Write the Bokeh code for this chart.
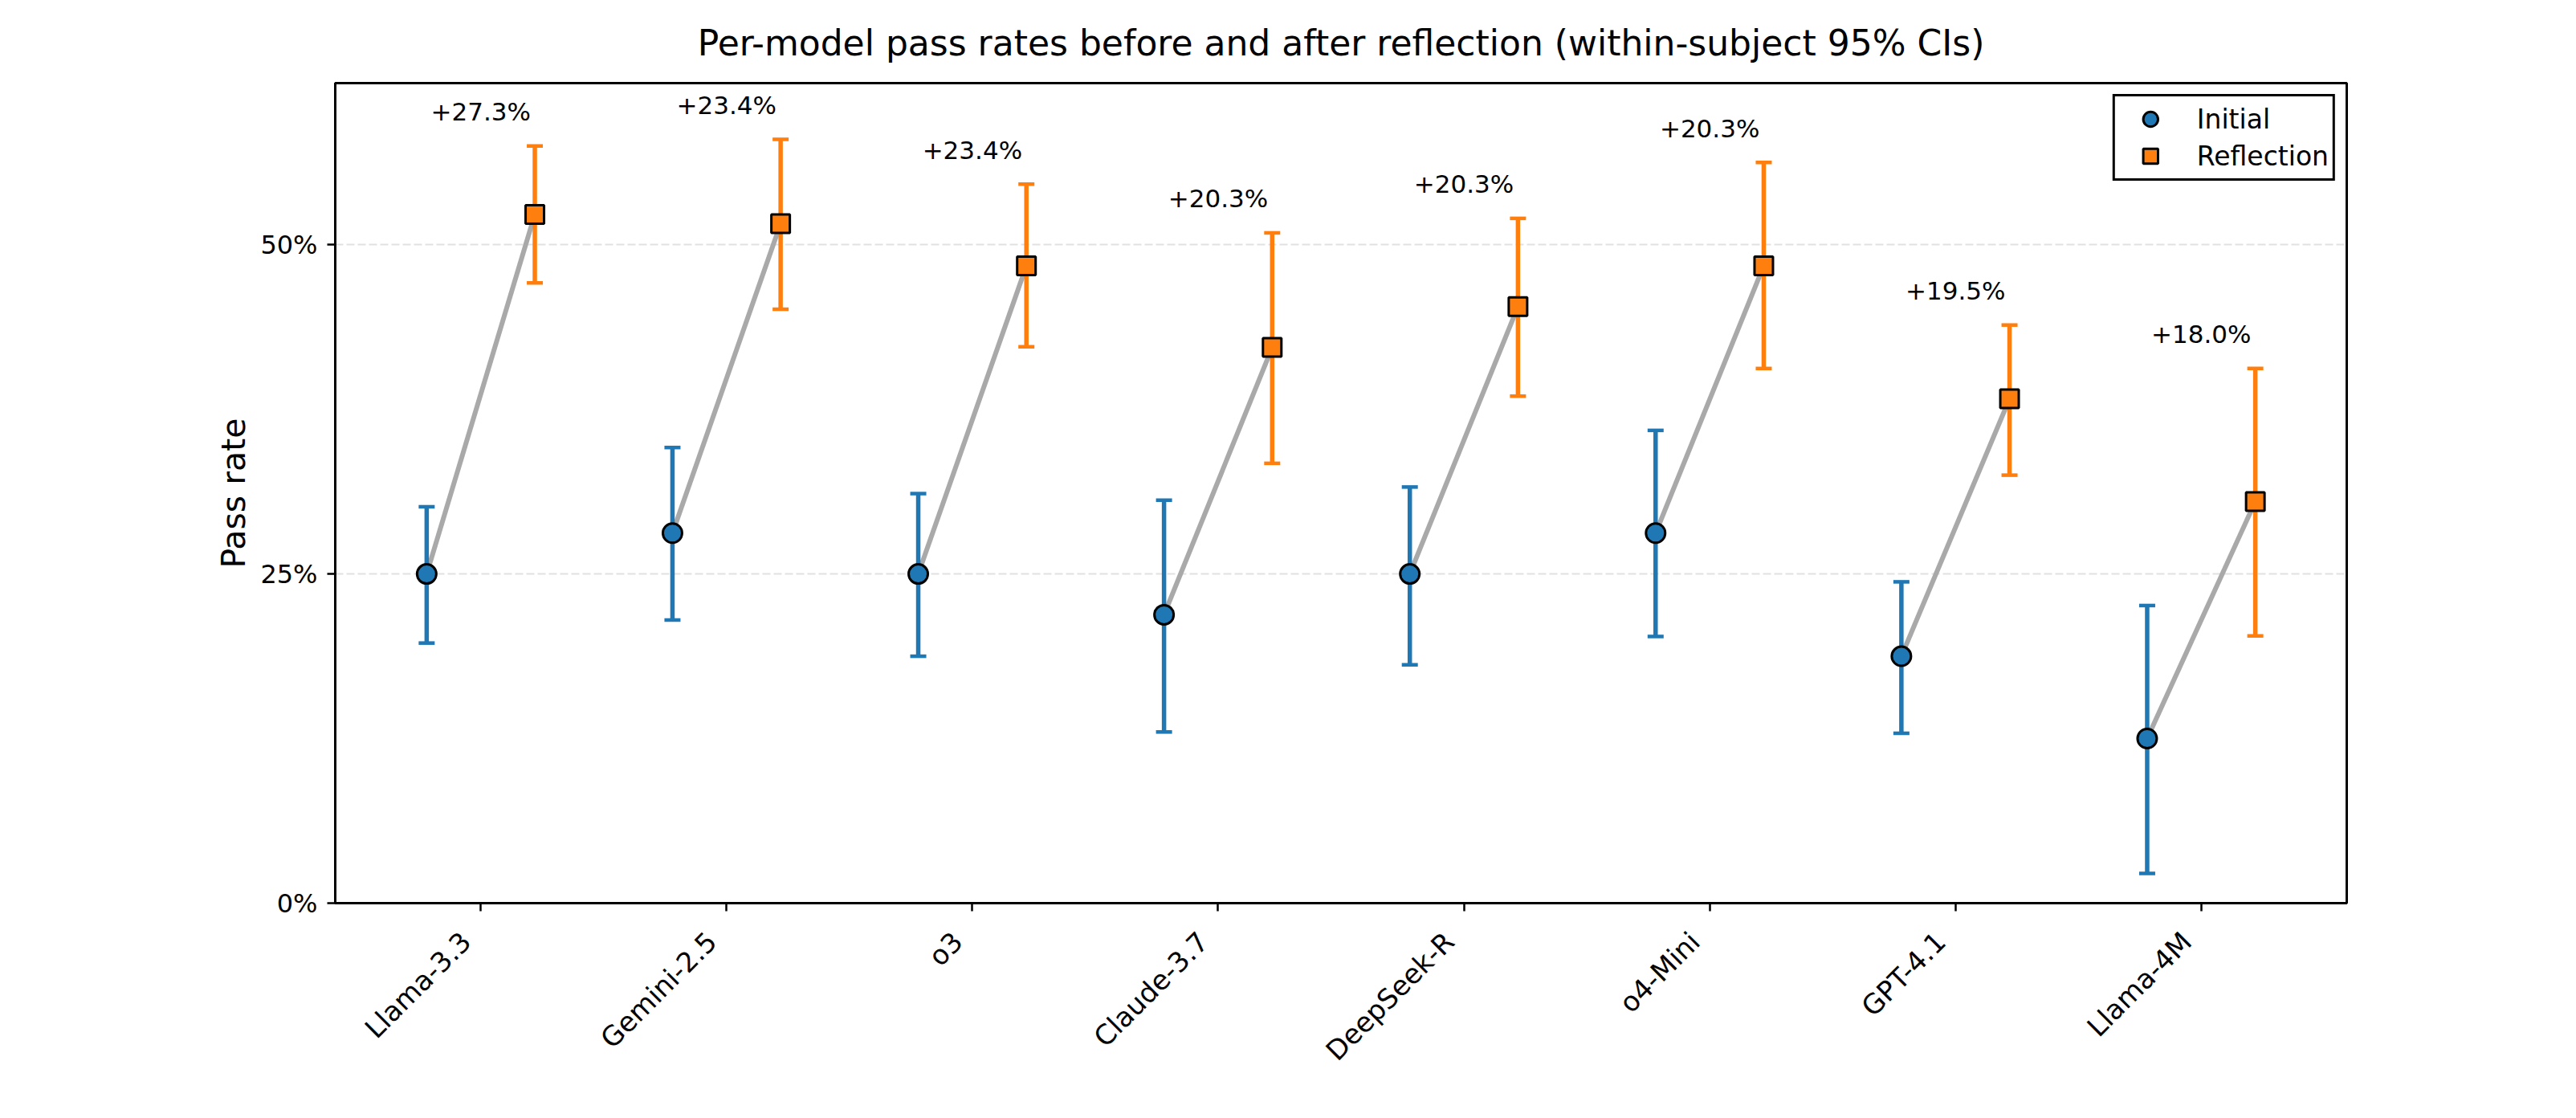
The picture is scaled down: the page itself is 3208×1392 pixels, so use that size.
import math
from bokeh.plotting import figure
from bokeh.models import (ColumnDataSource, Range1d, FixedTicker, NumeralTickFormatter,
                          Legend, LegendItem, LinearAxis)
from bokeh.embed import file_html
from bokeh.resources import INLINE
from bokeh.core.properties import value

# ---------------- data ----------------
models = ["Llama-3.3", "Gemini-2.5", "o3", "Claude-3.7", "DeepSeek-R", "o4-Mini", "GPT-4.1", "Llama-4M"]
initial = [0.250, 0.281, 0.250, 0.219, 0.250, 0.281, 0.1875, 0.125]
initial_lo = [0.1975, 0.215, 0.1875, 0.130, 0.181, 0.2025, 0.129, 0.0225]
initial_hi = [0.301, 0.346, 0.311, 0.306, 0.316, 0.359, 0.244, 0.226]
reflection = [0.523, 0.516, 0.484, 0.422, 0.453, 0.484, 0.383, 0.305]
reflection_lo = [0.471, 0.451, 0.4225, 0.334, 0.385, 0.406, 0.325, 0.203]
reflection_hi = [0.575, 0.580, 0.546, 0.509, 0.520, 0.5625, 0.439, 0.406]
gain_labels = ["+27.3%", "+23.4%", "+23.4%", "+20.3%", "+20.3%", "+20.3%", "+19.5%", "+18.0%"]
y_ticks = [0.0, 0.25, 0.5]

OFFSET = 0.22
FONT = "DejaVu Sans"
BLUE = "#1f77b4"
ORANGE = "#ff7f0e"
X0, X1 = -0.592, 7.592
LABEL_SHIFT = 0.06   # moves rotated category labels slightly left (matplotlib ha="right")

idx = list(range(len(models)))
x_init = [i - OFFSET for i in idx]
x_ref = [i + OFFSET for i in idx]

p = figure(width=3192, height=1376, output_backend="svg", toolbar_location=None,
           x_range=Range1d(X0, X1), y_range=Range1d(0, 0.6227),
           title="Per-model pass rates before and after reflection (within-subject 95% CIs)",
           min_border_left=417, min_border_right=270, min_border_top=102, min_border_bottom=252)

p.title.align = "center"
p.title.text_font = FONT
p.title.text_font_size = "44px"
p.title.text_font_style = "normal"
p.title.text_color = "black"
p.title.standoff = 50

p.background_fill_color = "white"
p.border_fill_color = "white"
p.outline_line_color = "black"
p.outline_line_width = 3
p.outline_line_alpha = 1.0

# grid
p.xgrid.grid_line_color = None
p.ygrid.ticker = FixedTicker(ticks=y_ticks)
p.ygrid.grid_line_color = "#d9d9d9"
p.ygrid.grid_line_width = 2
p.ygrid.grid_line_dash = "10 4"
p.ygrid.grid_line_alpha = 0.8

# axes
p.xaxis.ticker = FixedTicker(ticks=idx)
p.xaxis.major_label_overrides = {i: "" for i in idx}
p.yaxis.ticker = FixedTicker(ticks=y_ticks)
p.yaxis.formatter = NumeralTickFormatter(format="0%")
p.yaxis.axis_label = "Pass rate"
for ax in (p.xaxis[0], p.yaxis[0]):
    ax.axis_line_color = "black"
    ax.axis_line_width = 3
    ax.major_tick_line_color = "black"
    ax.major_tick_line_width = 2.5
    ax.major_tick_out = 10
    ax.major_tick_in = 0
    ax.minor_tick_line_color = None
    ax.major_label_text_font = FONT
    ax.major_label_text_font_size = "32px"
    ax.major_label_text_color = "black"
    ax.major_label_standoff = 12
p.xaxis.major_label_text_font_size = "0px"
p.xaxis.major_label_standoff = 0
p.yaxis.axis_label_text_font = FONT
p.yaxis.axis_label_text_font_size = "41px"
p.yaxis.axis_label_text_font_style = "normal"
p.yaxis.axis_label_text_color = "black"
p.yaxis.axis_label_standoff = 6

# category labels on a slightly shifted helper range
p.extra_x_ranges = {"labels": Range1d(X0 + LABEL_SHIFT, X1 + LABEL_SHIFT)}
lab_axis = LinearAxis(x_range_name="labels", ticker=FixedTicker(ticks=idx),
                      major_label_overrides={i: m for i, m in zip(idx, models)},
                      major_label_orientation=math.pi / 4,
                      axis_line_color=None, major_tick_line_color=None, minor_tick_line_color=None,
                      major_tick_out=0, major_tick_in=0, major_label_standoff=32,
                      major_label_text_font=FONT, major_label_text_font_size="34px",
                      major_label_text_color="black")
p.add_layout(lab_axis, "below")

# connecting lines
p.segment(x0=x_init, y0=initial, x1=x_ref, y1=reflection, line_color="#a9a9a9", line_width=6)

# error bars
for xs, lo, hi, col in ((x_init, initial_lo, initial_hi, BLUE), (x_ref, reflection_lo, reflection_hi, ORANGE)):
    p.segment(x0=xs, y0=lo, x1=xs, y1=hi, line_color=col, line_width=5.5)
    p.scatter(x=xs + xs, y=lo + hi, marker="dash", size=20, line_color=col, line_width=4.5)

# markers
r_init = p.scatter(x=x_init, y=initial, marker="circle", size=24, fill_color=BLUE,
                   line_color="black", line_width=3)
r_ref = p.scatter(x=x_ref, y=reflection, marker="square", size=23, fill_color=ORANGE,
                  line_color="black", line_width=3)

# gain annotations
ann = ColumnDataSource(dict(x=idx, y=[h + 0.015 for h in reflection_hi], t=gain_labels))
p.text(x="x", y="y", text="t", source=ann, text_align="center", text_baseline="bottom",
       text_font=value(FONT), text_font_size="31px", text_color="black")

legend = Legend(items=[LegendItem(label="Initial", renderers=[r_init]),
                       LegendItem(label="Reflection", renderers=[r_ref])],
                location="top_right", margin=14, padding=5, spacing=0,
                glyph_height=46, glyph_width=78, label_height=46, label_standoff=19,
                label_width=160,
                label_text_font=FONT, label_text_font_size="33px", label_text_color="black",
                border_line_color="black", border_line_width=3, border_line_alpha=1.0,
                background_fill_color="white", background_fill_alpha=1.0)
p.add_layout(legend)

open("out.html", "w").write(file_html(p, INLINE))
